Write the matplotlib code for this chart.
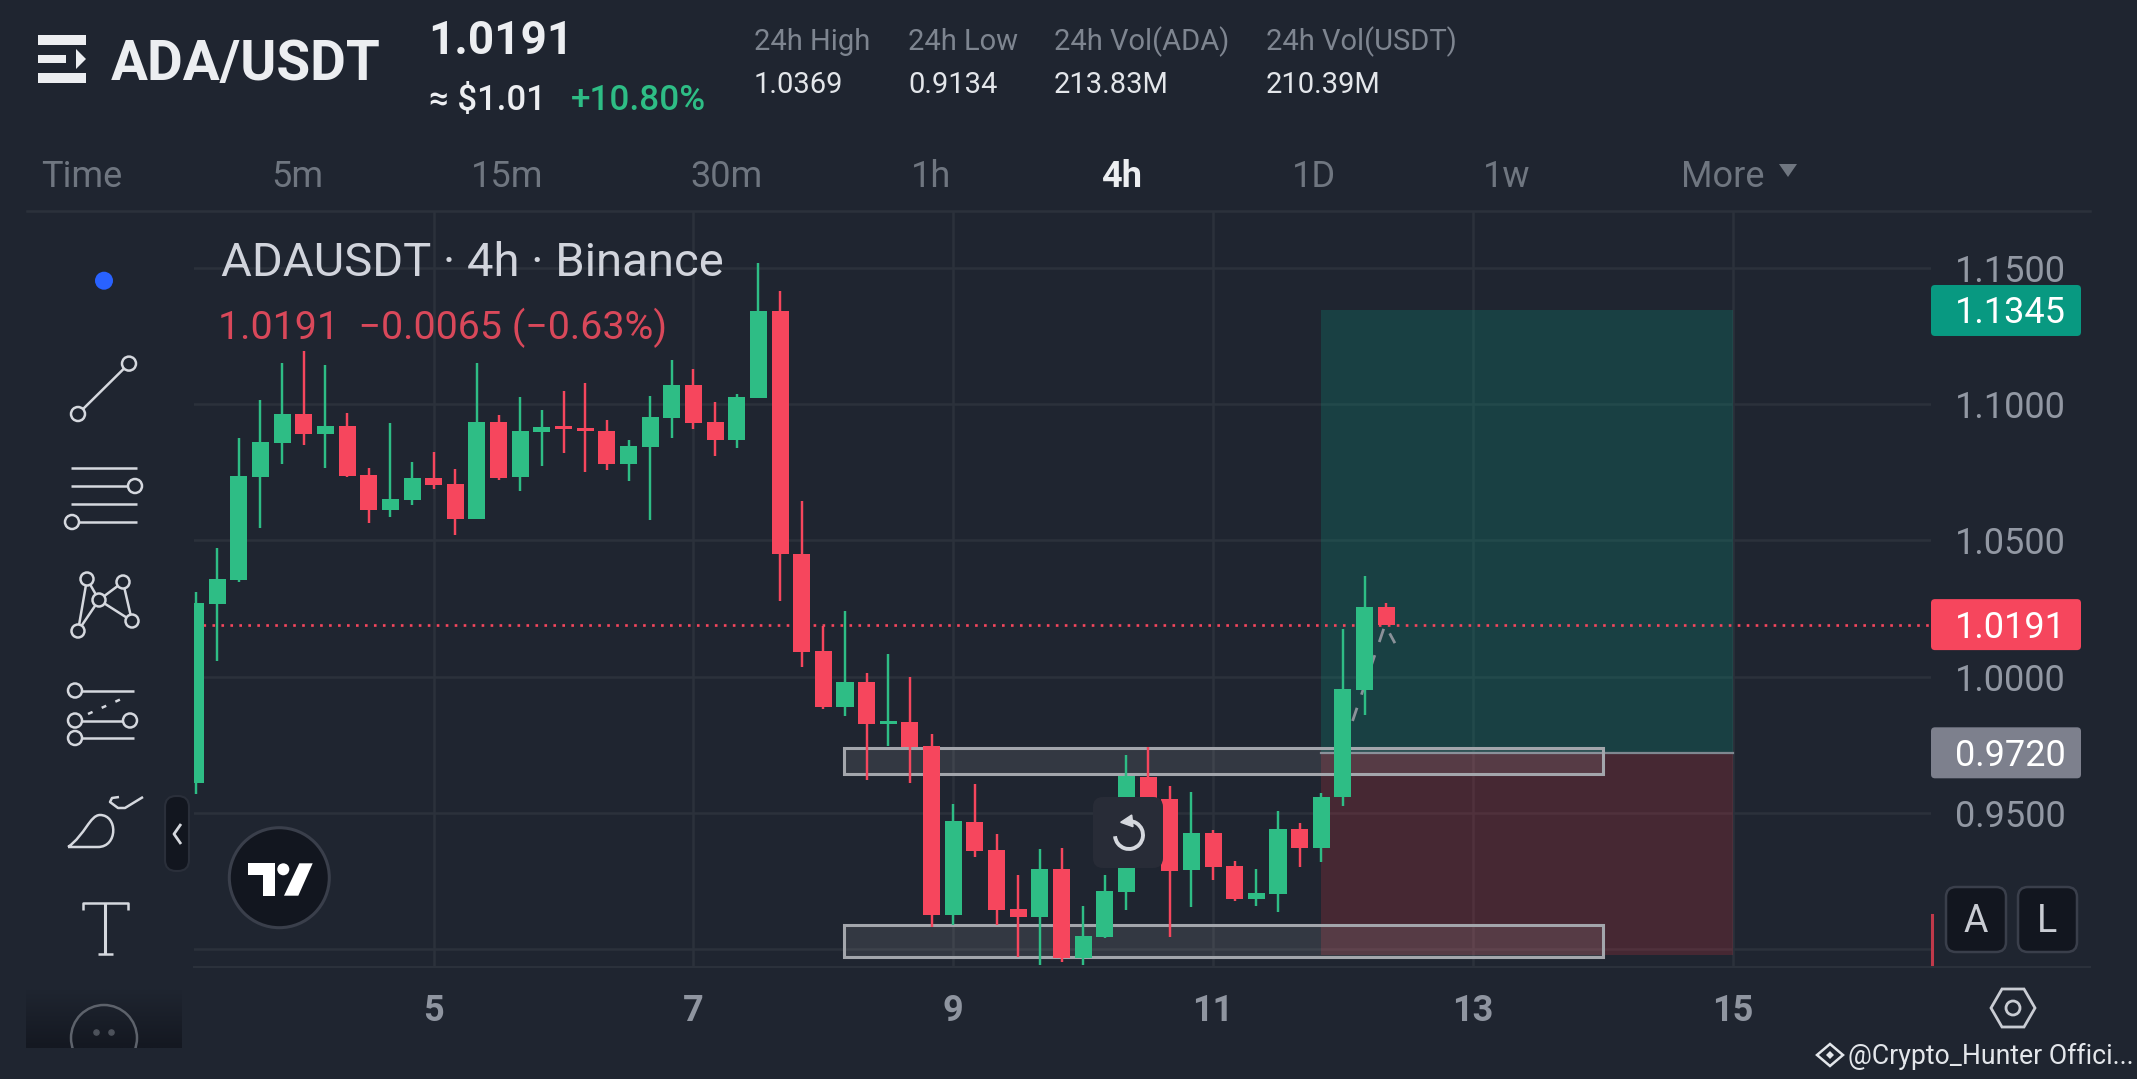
import numpy as np
import matplotlib
matplotlib.use("Agg")
import matplotlib.pyplot as plt
from matplotlib.patches import Rectangle, FancyBboxPatch, Circle, Arc, Polygon, PathPatch
from matplotlib.path import Path

plt.rcParams['font.family'] = ['Roboto', 'DejaVu Sans']

# ---- candle data (4h candles, 6 per day)
first_day = 5 - 11 / 6
opens = [0.9609, 1.0267, 1.0355, 1.0733, 1.0858, 1.0965, 1.0891, 1.0920, 1.0740, 1.0612, 1.0649, 1.0729, 1.0707,
         1.0579, 1.0935, 1.0733, 1.0898, 1.0920, 1.0913, 1.0902, 1.0781, 1.0843, 1.0950, 1.1071, 1.0935, 1.0869,
         1.1023, 1.1343, 1.0450, 1.0094, 0.9889, 0.9980, 0.9826, 0.9832, 0.9745, 0.9124, 0.9465, 0.9363, 0.9146,
         0.9116, 0.9293, 0.8966, 0.9043, 0.9210, 0.9631, 0.9550, 0.9289, 0.9425, 0.9304, 0.9183, 0.9201, 0.9440,
         0.9370, 0.9557, 0.9950, 1.0255]
closes = [1.0271, 1.0359, 1.0737, 1.0862, 1.0965, 1.0891, 1.0920, 1.0737, 1.0612, 1.0652, 1.0729, 1.0704, 1.0579,
          1.0935, 1.0728, 1.0902, 1.0917, 1.0908, 1.0902, 1.0781, 1.0847, 1.0953, 1.1071, 1.0931, 1.0869, 1.1027,
          1.1343, 1.0450, 1.0091, 0.9889, 0.9980, 0.9827, 0.9837, 0.9742, 0.9124, 0.9469, 0.9359, 0.9142, 0.9116,
          0.9293, 0.8966, 0.9047, 0.9212, 0.9634, 0.9448, 0.9286, 0.9425, 0.9300, 0.9183, 0.9205, 0.9440, 0.9370,
          0.9557, 0.9954, 1.0255, 1.0191]
highs = [1.0311, 1.0472, 1.0875, 1.1016, 1.1151, 1.1196, 1.1145, 1.0968, 1.0766, 1.0931, 1.0788, 1.0826, 1.0762,
         1.1152, 1.0961, 1.1027, 1.0979, 1.1049, 1.1078, 1.0942, 1.0869, 1.1031, 1.1163, 1.1130, 1.1009, 1.1038,
         1.1519, 1.1416, 1.0645, 1.0186, 1.0241, 1.0013, 1.0083, 0.9998, 0.9789, 0.9532, 0.9605, 0.9421, 0.9271,
         0.9366, 0.9370, 0.9157, 0.9271, 0.9712, 0.9741, 0.9598, 0.9576, 0.9436, 0.9322, 0.9293, 0.9506, 0.9462,
         0.9572, 1.0174, 1.0369, 1.0270]
lows = [0.9569, 1.0057, 1.0349, 1.0547, 1.0782, 1.0851, 1.0767, 1.0733, 1.0564, 1.0587, 1.0630, 1.0689, 1.0520,
        1.0579, 1.0723, 1.0682, 1.0773, 1.0821, 1.0751, 1.0759, 1.0718, 1.0575, 1.0876, 1.0909, 1.0810, 1.0840,
        1.1023, 1.0277, 1.0036, 0.9882, 0.9856, 0.9620, 0.9745, 0.9610, 0.9081, 0.9087, 0.9338, 0.9089, 0.8971,
        0.8940, 0.8951, 0.8940, 0.9039, 0.9142, 0.9420, 0.9043, 0.9153, 0.9252, 0.9175, 0.9157, 0.9135, 0.9300,
        0.9319, 0.9524, 0.9859, 1.0191]

price_ticks = [0.90, 0.95, 1.00, 1.05, 1.10, 1.15]
price_labels = ['', '0.9500', '1.0000', '1.0500', '1.1000', '1.1500']
day_ticks = [5, 7, 9, 11, 13, 15]

last_price = 1.0191
target_price = 1.1345
entry_price = 0.9720
stop_price = 0.8978
position_start = 5 + 41 / 6
position_end = 15
zones = [(0.9641, 0.9739), (0.8971, 0.9086)]
zone_start, zone_end = 8.156, 14.0
path_days = [12.074, 12.324, 12.40]
path_prices = [0.9837, 1.0190, 1.0123]

header_stats = [('24h High', '1.0369', 754), ('24h Low', '0.9134', 908),
                ('24h Vol(ADA)', '213.83M', 1054), ('24h Vol(USDT)', '210.39M', 1266)]
tabs = [('Time', 82), ('5m', 297), ('15m', 507), ('30m', 726), ('1h', 931), ('4h', 1122), ('1D', 1314), ('1w', 1507), ('More', 1723)]

BG = '#1f2530'
GRID = '#2b313b'
GREEN = '#2ebd85'
RED = '#f6465d'
LIGHT = '#d5d8de'
W, H = 2137, 1079

fig = plt.figure(figsize=(W / 100, H / 100), dpi=100, facecolor=BG)

# ---- price chart
left, right, top, bottom = 194, 1931, 212, 966.6
ax = fig.add_axes([left / W, 1 - bottom / H, (right - left) / W, (bottom - top) / H], facecolor=BG)
ax.set_xlim(3.155, 16.527)
ax.set_ylim(0.89346, 1.17068)
for s in ax.spines.values():
    s.set_visible(False)
ax.set_xticks(day_ticks)
ax.set_xticklabels([str(d) for d in day_ticks], fontsize=26, fontweight='bold', color='#8f95a0')
ax.set_yticks(price_ticks)
ax.set_yticklabels(price_labels, fontsize=26, color='#9298a3', ha='left')
ax.yaxis.tick_right()
ax.tick_params(axis='both', length=0)
ax.tick_params(axis='y', pad=17)
ax.tick_params(axis='x', pad=19)
ax.grid(True, color=GRID, lw=1.8)
ax.set_axisbelow(True)

ax.add_patch(Rectangle((position_start, entry_price), position_end - position_start, target_price - entry_price,
                       fc='#089981', alpha=0.24, ec='none', zorder=1))
ax.add_patch(Rectangle((position_start, stop_price), position_end - position_start, entry_price - stop_price,
                       fc='#f23645', alpha=0.19, ec='none', zorder=1))
ax.plot([position_start, position_end], [entry_price, entry_price], color='#7f8790', lw=1.6, zorder=1.5)
for lo, hi in zones:
    ax.add_patch(Rectangle((zone_start, lo), zone_end - zone_start, hi - lo, fc=(1, 1, 1, 0.09), ec='#a3a6ac',
                           lw=2.2, zorder=2))
ax.plot(path_days, path_prices, color='#8a9199', lw=2, ls=(0, (5, 5)), zorder=2.5)
ax.axhline(last_price, color=RED, lw=1.9, ls=(0, (1, 2.4)), zorder=3)

xs = first_day + np.arange(len(opens)) / 6
o, c, h_, l_ = map(np.array, (opens, closes, highs, lows))
cols = [GREEN if b >= a else RED for a, b in zip(o, c)]
ax.vlines(xs, l_, h_, colors=cols, lw=1.75, zorder=4)
ax.bar(xs, np.abs(c - o), bottom=np.minimum(o, c), width=0.131, color=cols, zorder=4.5)

# ---- everything else is interface, drawn in pixel coordinates
ui = fig.add_axes([0, 0, 1, 1], facecolor='none')
ui.set_xlim(0, W)
ui.set_ylim(H, 0)
ui.axis('off')


def px(p):
    return H - ax.transData.transform((4, p))[1]


def box(x0, y0, x1, y1, r, fc, ec='none', lw=0, z=3):
    ui.add_patch(FancyBboxPatch((x0 + r, y0 + r), x1 - x0 - 2 * r, y1 - y0 - 2 * r, boxstyle=f'round,pad={r}',
                                fc=fc, ec=ec, lw=lw, zorder=z))


def ring(x, y, r, col=LIGHT, lw=1.8):
    ui.add_patch(Circle((x, y), r, fc=BG, ec=col, lw=lw, zorder=4))


def seg(pts, col=LIGHT, lw=1.8, **kw):
    a = np.array(pts)
    ui.plot(a[:, 0], a[:, 1], color=col, lw=lw, zorder=3, solid_capstyle='butt', **kw)


# header
for y0, y1, x1 in [(35, 45, 86), (55, 63, 66), (73, 83, 86)]:
    ui.add_patch(Rectangle((38, y0), x1 - 38, y1 - y0, fc='#eceef1', ec='none'))
ui.add_patch(Polygon([(76, 49), (86, 59), (76, 69)], fc='#eceef1', ec='none'))
ui.text(111, 65, 'ADA/USDT', fontsize=39.5, fontweight='bold', color='#eceef1', va='center')
ui.text(428, 41, '1.0191', fontsize=33, fontweight='bold', color='#eceef1', va='center')
ui.text(429, 100, '≈ $1.01', fontsize=25, fontweight='medium', color='#eceef1', va='center')
ui.text(571, 100, '+10.80%', fontsize=25.3, fontweight='medium', color=GREEN, va='center')
for label, value, x in header_stats:
    ui.text(x, 42, label, fontsize=21, color='#7e8590', va='center')
    ui.text(x, 85, value, fontsize=21, color='#e3e6ea', va='center')
for label, x in tabs:
    active = label == '4h'
    ui.text(x, 177, label, fontsize=26, ha='center', va='center', color='#eceef1' if active else '#6f7680',
            fontweight='bold' if active else 'normal')
ui.add_patch(Polygon([(1779, 164), (1797, 164), (1788, 177)], fc='#6f7680', ec='none'))
ui.plot([27, 2090], [211, 211], color=GRID, lw=1.8)
ui.plot([194, 2090], [966.5, 966.5], color=GRID, lw=1.5)

# chart legend
ui.text(221, 263, 'ADAUSDT · 4h · Binance', fontsize=34, color='#d1d4dc', va='center')
ui.text(218, 328, '1.0191  −0.0065 (−0.63%)', fontsize=28.4, color='#d9485a', va='center')

# price badges
for p, txt, col in [(target_price, '1.1345', '#089981'), (last_price, '1.0191', RED), (entry_price, '0.9720', '#7d808d')]:
    y = px(p)
    box(1931, y - 25.5, 2081, y + 25.5, 4, col)
    ui.text(1955, y + 3, txt, fontsize=26, color='#ffffff', va='center', zorder=5)
ui.plot([1932, 1932], [915, 964], color='#c0394a', lw=2.2)

# A / L buttons
for x0, x1, t in [(1946, 2006, 'A'), (2018, 2077, 'L')]:
    box(x0, 887, x1, 952, 10, '#12161f', '#3a3f4b', 1.8)
    ui.text((x0 + x1) / 2, 922, t, fontsize=27, color='#c9ccd3', ha='center', va='center', zorder=5)

# settings hexagon
ui.add_patch(Polygon([(1991, 1008), (2002, 989), (2024, 989), (2035, 1008), (2024, 1027), (2002, 1027)], fc='none',
                     ec='#c9ccd3', lw=2))
ui.add_patch(Circle((2013, 1008), 7, fc='none', ec='#c9ccd3', lw=2))

# watermark
ui.text(1848, 1056, '@Crypto_Hunter Offici...', fontsize=19.2, color='#e3e6ea', va='center')
ui.add_patch(Polygon([(1830, 1044), (1843, 1055), (1830, 1066), (1817, 1055)], fc='none', ec='#e3e6ea', lw=1.8))
ui.add_patch(Polygon([(1830, 1051), (1834, 1055), (1830, 1059), (1826, 1055)], fc='#e3e6ea', ec='none'))

# left toolbar
ui.add_patch(Circle((104, 280.7), 9, fc='#2962ff', ec='none'))
seg([(129, 363.6), (78, 414)])
ring(129, 363.6, 7), ring(78, 414, 7)
for y in (468, 486, 504, 522):
    seg([(71, y), (137, y)])
ring(135, 486, 7), ring(72, 522, 7)
nodes = {'a': (87, 579), 'b': (123, 582), 'c': (99, 600), 'd': (132, 621), 'e': (78, 631)}
for u, v in ['ae', 'ac', 'bc', 'bd', 'ce', 'cd']:
    seg([nodes[u], nodes[v]])
for n in nodes.values():
    ring(n[0], n[1], 6.5)
for y in (690.5, 720.5, 738):
    seg([(75, y), (134, y)])
    ring(75, y, 7)
ring(130, 720.5, 7)
seg([(88, 714), (128, 696)], lw=1.8, ls=(0, (2, 4)))
seg([(143, 797), (125, 808), (118, 808), (110, 802), (112, 798), (119, 797)])
ui.add_patch(PathPatch(Path([(68, 847), (85, 835), (90, 815), (100, 815), (118, 815), (118, 847), (98, 847), (68, 847)],
                            [Path.MOVETO, Path.CURVE4, Path.CURVE4, Path.CURVE4, Path.CURVE4, Path.CURVE4, Path.CURVE4,
                             Path.LINETO]), fc='none', ec=LIGHT, lw=1.8))
seg([(83, 910), (83, 903), (128, 903), (128, 910)])
seg([(105, 903), (105, 954)], lw=2.2)
seg([(98, 954), (113, 954)])

# more-tools stub with fade
fade = ui.imshow(np.linspace(0, 1, 32).reshape(-1, 1), extent=(26, 182, 1048, 989), aspect='auto',
                 cmap=matplotlib.colors.LinearSegmentedColormap.from_list('f', [BG, '#141821']), zorder=2)
ui.set_xlim(0, W)
ui.set_ylim(H, 0)
c_ring = Circle((104, 1038), 33, fc='none', ec='#5d626b', lw=1.8, zorder=3)
ui.add_patch(c_ring)
c_ring.set_clip_path(Rectangle((26, 989), 156, 59, transform=ui.transData))
ui.scatter([96, 111], [1032, 1032], s=14, color='#4d525b', zorder=3)

# collapse pill
box(165, 796, 189, 871, 11, '#12161f', '#2a2f3a', 1.5)
seg([(181, 824), (174, 834), (181, 844)], col=LIGHT, lw=2)

# tradingview badge
ui.add_patch(Circle((279.3, 877.7), 50, fc='#12161f', ec='#3a3f4b', lw=2.2, zorder=3))
ui.add_patch(Polygon([(247.7, 863.3), (275, 863.3), (275, 895.7), (263.3, 895.7), (263.3, 875), (247.7, 875)],
                     fc='#ffffff', ec='none', zorder=4))
ui.add_patch(Circle((283.3, 869.3), 6, fc='#ffffff', ec='none', zorder=4))
ui.add_patch(Polygon([(299.3, 863.3), (312.7, 863.3), (298.3, 895.7), (284, 895.7)], fc='#ffffff', ec='none', zorder=4))

# replay button
box(1093, 797, 1163, 868, 10, '#282c37', z=6)
ui.add_patch(Arc((1129, 835), 28, 28, theta1=-90, theta2=175, color='#d5d8de', lw=2.8, zorder=7))
ui.add_patch(Polygon([(1120.7, 822.3), (1131.7, 815), (1133, 826.7)], fc='#d5d8de', ec='#d5d8de', lw=1, zorder=7))

fig.savefig('out.png', dpi=100, facecolor=BG)
